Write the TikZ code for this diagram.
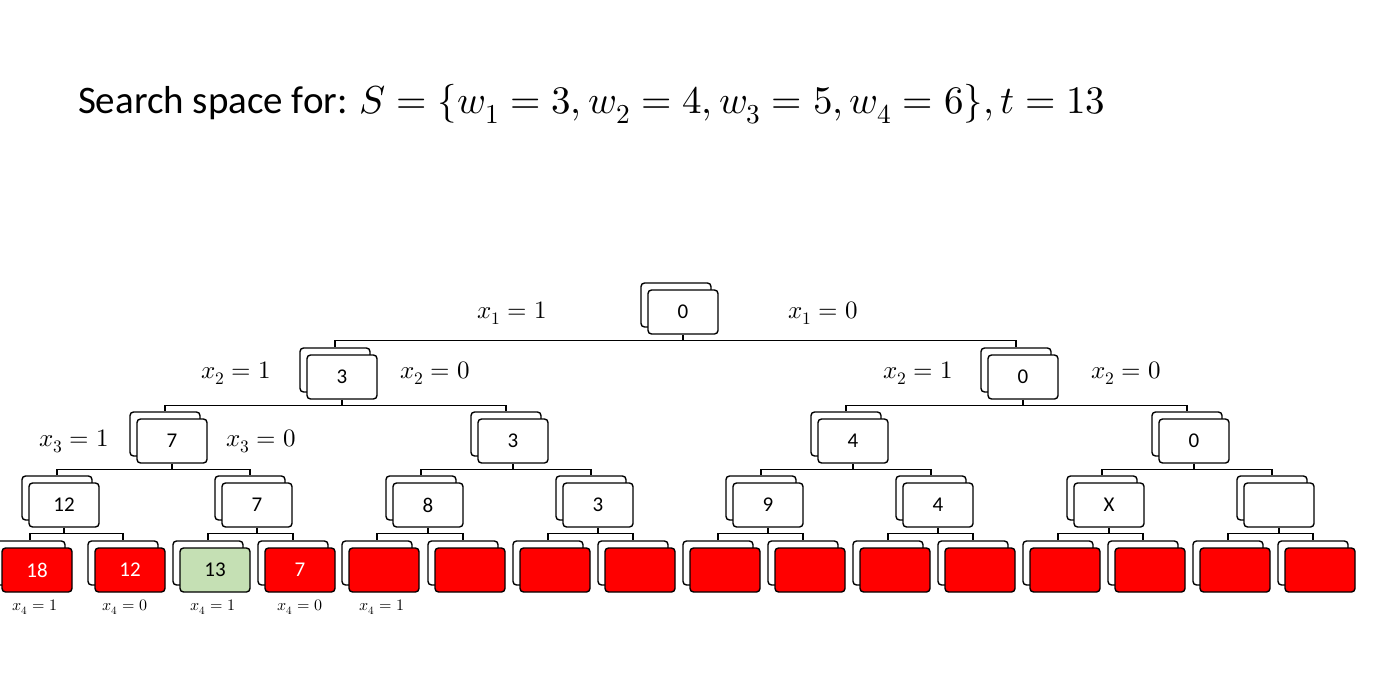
\documentclass[tikz,border=0pt]{standalone}
\usepackage{fontspec}
\setmainfont{Carlito}
\usepackage{unicode-math}
\setmathfont{Latin Modern Math}
\begin{document}
\begin{tikzpicture}[x=1pt,y=-1pt,line width=1.4pt]
\tikzset{
 bx/.style={draw,rounded corners=3.5pt,minimum width=70pt,minimum height=44pt,inner sep=0pt,font=\fontsize{21}{21}\selectfont,fill=white},
 red/.style={fill={rgb,255:red,255;green,0;blue,0},text=white},
 grn/.style={fill={rgb,255:red,197;green,224;blue,180}},
 lab/.style={font=\fontsize{25}{25}\selectfont},
 slab/.style={font=\fontsize{16}{16}\selectfont},
 wire/.style={line width=1.4pt}
}
\useasboundingbox (0,0) rectangle (1379,699);
\newcommand\pairnode[5]{%
 \node[bx] (#1-bk) at (#2-7,#3-7) {};
 \node[bx,#5] (#1) at (#2,#3) {#4};}
\node[anchor=west,font=\fontsize{39}{39}\selectfont] (title) at (74,104) {Search space for: $S=\{w_1=3,w_2=4,w_3=5,w_4=6\},t=13$};
% level 0
\pairnode{r}{683}{312}{0}{}
% level 1
\pairnode{a}{342}{377}{3}{}
\pairnode{b}{1023}{377}{0}{}
% level 2
\pairnode{aa}{172}{441}{7}{}
\pairnode{ab}{513}{441}{3}{}
\pairnode{ba}{853}{441}{4}{}
\pairnode{bb}{1194}{441}{0}{}
% level 3
\pairnode{aaa}{64}{505}{12}{}
\pairnode{aab}{257}{505}{7}{}
\pairnode{aba}{428}{505}{8}{}
\pairnode{abb}{598}{505}{3}{}
\pairnode{baa}{768}{505}{9}{}
\pairnode{bab}{938}{505}{4}{}
\pairnode{bba}{1109}{505}{X}{}
\pairnode{bbb}{1279}{505}{}{}
% level 4
\pairnode{l1}{37}{570}{18}{red}
\pairnode{l2}{130}{570}{12}{red}
\pairnode{l3}{215}{570}{13}{grn}
\pairnode{l4}{300}{570}{7}{red}
\pairnode{l5}{384}{570}{}{red}
\pairnode{l6}{470}{570}{}{red}
\pairnode{l7}{555}{570}{}{red}
\pairnode{l8}{640}{570}{}{red}
\pairnode{l9}{725}{570}{}{red}
\pairnode{l10}{810}{570}{}{red}
\pairnode{l11}{895}{570}{}{red}
\pairnode{l12}{980}{570}{}{red}
\pairnode{l13}{1065}{570}{}{red}
\pairnode{l14}{1150}{570}{}{red}
\pairnode{l15}{1235}{570}{}{red}
\pairnode{l16}{1320}{570}{}{red}
% connectors
\newcommand\conn[3]{%
 \draw[wire] (#1.south) -- ++(0,6) -| (#2-bk.north);
 \draw[wire] (#1.south) ++(0,6) -| (#3-bk.north);}
\conn{r}{a}{b}
\conn{a}{aa}{ab}
\conn{b}{ba}{bb}
\conn{aa}{aaa}{aab}
\conn{ab}{aba}{abb}
\conn{ba}{baa}{bab}
\conn{bb}{bba}{bbb}
\conn{aaa}{l1}{l2}
\conn{aab}{l3}{l4}
\conn{aba}{l5}{l6}
\conn{abb}{l7}{l8}
\conn{baa}{l9}{l10}
\conn{bab}{l11}{l12}
\conn{bba}{l13}{l14}
\conn{bbb}{l15}{l16}
% labels
\node[lab] (e1) at (512,313) {$x_1=1$};
\node[lab] (e2) at (823,313) {$x_1=0$};
\node[lab] (e3) at (236,373) {$x_2=1$};
\node[lab] (e4) at (435,373) {$x_2=0$};
\node[lab] (e5) at (918,373) {$x_2=1$};
\node[lab] (e6) at (1126,373) {$x_2=0$};
\node[lab] (e7) at (74,441) {$x_3=1$};
\node[lab] (e8) at (261,441) {$x_3=0$};
\node[slab] (f1) at (35,607) {$x_4=1$};
\node[slab] (f2) at (125,607) {$x_4=0$};
\node[slab] (f3) at (213,607) {$x_4=1$};
\node[slab] (f4) at (300,607) {$x_4=0$};
\node[slab] (f5) at (382,607) {$x_4=1$};
\end{tikzpicture}
\end{document}
